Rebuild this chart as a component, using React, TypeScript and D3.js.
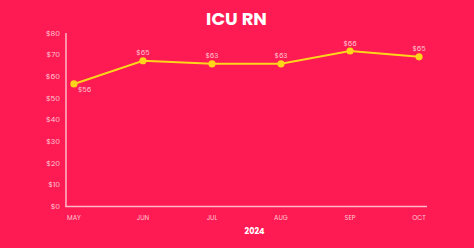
import React from "react";
import * as d3 from "d3";

const months = ["MAY", "JUN", "JUL", "AUG", "SEP", "OCT"];
const values = [56.5, 67.2, 65.8, 65.8, 71.7, 69.0];
const valueLabels = ["$56", "$65", "$63", "$63", "$66", "$65"];
const yTicks = [0, 10, 20, 30, 40, 50, 60, 70, 80];
const title = "ICU RN";
const xTitle = "2024";

const W = 474;
const H = 248;
const BG = "#FE1A52";
const AXIS = "#FFB8C9";
const TICK_TEXT = "#FFC9D6";
const LINE = "#FFD51C";
const FONT = "Poppins, 'Open Sans', 'DejaVu Sans', sans-serif";

export default function App() {
  const x = d3.scalePoint<string>().domain(months).range([66, 427]).padding(0.115);
  const y = d3.scaleLinear().domain([0, 80]).range([206.5, 33]);
  const line = d3
    .line<number>()
    .x((_, i) => x(months[i]) as number)
    .y((d) => y(d));

  return (
    <svg
      width={W}
      height={H}
      style={{ position: "absolute", left: 0, top: 0, display: "block" }}
    >
      <rect x={0} y={0} width={W} height={H} fill={BG} />
      <text
        x={236.5}
        y={24.5}
        textAnchor="middle"
        fill="#FFFFFF"
        fontFamily={FONT}
        fontWeight={700}
        fontSize={18}
      >
        {title}
      </text>
      {yTicks.map((t) => (
        <text
          key={t}
          x={60}
          y={y(t)}
          dy="0.35em"
          textAnchor="end"
          fill={TICK_TEXT}
          fontFamily={FONT}
          fontSize={7.5}
        >
          {"$" + t}
        </text>
      ))}
      <line x1={66} x2={66} y1={33} y2={207} stroke={AXIS} strokeWidth={1.5} />
      <line x1={65.25} x2={427} y1={206.5} y2={206.5} stroke={AXIS} strokeWidth={1.5} />
      {months.map((m) => (
        <text
          key={m}
          x={x(m)}
          y={220}
          textAnchor="middle"
          fill={TICK_TEXT}
          fontFamily={FONT}
          fontSize={6.5}
        >
          {m}
        </text>
      ))}
      <text
        x={254.5}
        y={234}
        textAnchor="middle"
        fill="#FFFFFF"
        fontFamily={FONT}
        fontWeight={700}
        fontSize={8}
      >
        {xTitle}
      </text>
      <path d={line(values) || ""} fill="none" stroke={LINE} strokeWidth={2} />
      {values.map((v, i) => (
        <circle key={i} cx={x(months[i])} cy={y(v)} r={3.6} fill={LINE} />
      ))}
      {values.map((v, i) => {
        const cx = x(months[i]) as number;
        const cy = y(v);
        const below = i === 0;
        return (
          <text
            key={"l" + i}
            x={below ? cx + 4 : cx}
            y={below ? cy + 8 : cy - 5.5}
            textAnchor={below ? "start" : "middle"}
            fill={TICK_TEXT}
            fontFamily={FONT}
            fontSize={7}
          >
            {valueLabels[i]}
          </text>
        );
      })}
    </svg>
  );
}
